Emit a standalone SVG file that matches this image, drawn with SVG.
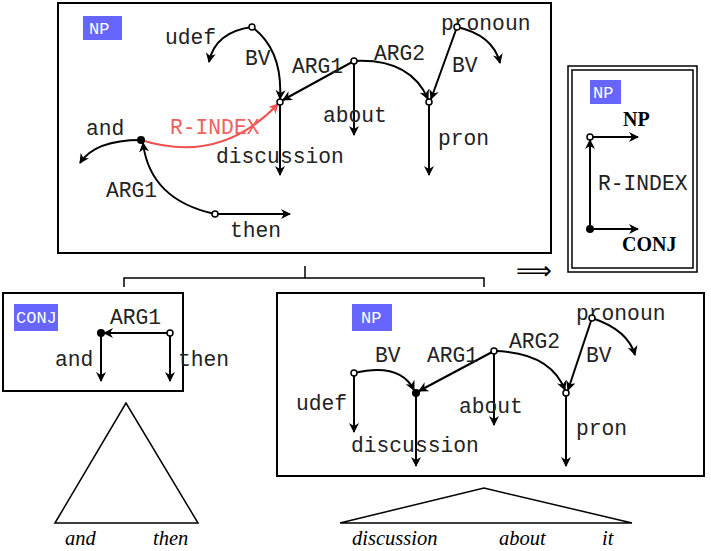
<svg xmlns="http://www.w3.org/2000/svg" width="711" height="551" viewBox="0 0 711 551">
<style>
.box{fill:none;stroke:#000;stroke-width:2}
.t{font-family:"Liberation Mono",monospace;font-size:21.3px;fill:#222}
.lab{fill:#6666ff}
.lt{font-family:"Liberation Mono",monospace;font-size:17px;fill:#fff}
.e{fill:none;stroke:#000;stroke-width:2;marker-end:url(#a)}
.l{fill:none;stroke:#000;stroke-width:1.5}
.o{fill:#fff;stroke:#000;stroke-width:1.5}
.f{fill:#000}
.it{font-family:"Liberation Serif",serif;font-style:italic;font-size:20.5px}
.b{font-family:"Liberation Serif",serif;font-weight:bold;font-size:20px}
</style>
<defs>
<marker id="a" markerWidth="10" markerHeight="10" refX="9" refY="5" orient="auto" markerUnits="userSpaceOnUse"><path d="M0,0 L10,5 L0,10 L3,5 Z" fill="#000"/></marker>
<marker id="r" markerWidth="10" markerHeight="10" refX="9" refY="5" orient="auto" markerUnits="userSpaceOnUse"><path d="M0,0 L10,5 L0,10 L3,5 Z" fill="#f05050"/></marker>
</defs>
<rect width="711" height="551" fill="#fff"/>
<g id="connectors">
<path class="e" d="M252,27 Q215,32 209,62"/>
<path class="e" d="M252,27 Q283,50 280,99"/>
<path class="e" d="M354,61 L283,100"/>
<path class="e" d="M354,61 L354,135"/>
<path class="e" d="M354,61 Q410,58 428,99"/>
<path class="e" d="M457,27 L431,99"/>
<path class="e" d="M457,27 Q493,35 500,63"/>
<path class="e" d="M280,104 L280,175"/>
<path class="e" d="M429,104 L429,175"/>
<path class="e" d="M141,140 Q95,140 80,163"/>
<path fill="none" stroke="#f05050" stroke-width="2" marker-end="url(#r)" d="M141,140 Q220,165 278,104"/>
<path class="e" d="M215,214 Q150,200 143,143"/>
<path class="e" d="M217,214 L290,214"/>
<path class="l" d="M124,287 V278 H484 V287 M305,278 V266"/>
<path class="e" d="M590,137 L638,137"/>
<path class="e" d="M590,229 L590,140"/>
<path class="e" d="M590,229 L638,229"/>
<path class="e" d="M168,333 L104,333"/>
<path class="e" d="M101,333 L101,381"/>
<path class="e" d="M170,335 L170,381"/>
<path class="l" d="M55,523 L126,403 L198,523 Z"/>
<path class="e" d="M354,375 L354,432"/>
<path class="e" d="M354,373 Q400,362 414,390"/>
<path class="e" d="M494,351 L419,391"/>
<path class="e" d="M494,351 L494,425"/>
<path class="e" d="M494,351 Q550,352 565,390"/>
<path class="e" d="M592,318 L568,390"/>
<path class="e" d="M592,318 Q628,330 635,355"/>
<path class="e" d="M416,393 L416,466"/>
<path class="e" d="M566,395 L566,466"/>
<path class="l" d="M340,523 L484,488 L632,523 Z"/>
</g>
<g id="top">
<rect class="box" x="58" y="3" width="493" height="250"/>
<rect class="lab" x="83" y="16" width="39" height="24"/><text class="lt" x="89" y="34">NP</text>
<text class="t" x="165" y="44">udef</text>
<text class="t" x="245" y="65">BV</text>
<text class="t" x="292" y="73">ARG1</text>
<text class="t" x="374" y="60">ARG2</text>
<text class="t" x="323" y="122">about</text>
<text class="t" x="441" y="30">pronoun</text>
<text class="t" x="452" y="72">BV</text>
<text class="t" x="438" y="145">pron</text>
<text class="t" x="216" y="163">discussion</text>
<text class="t" x="86" y="135">and</text>
<text class="t" x="170" y="134" style="fill:#f06060">R-INDEX</text>
<text class="t" x="106" y="197">ARG1</text>
<text class="t" x="230" y="237">then</text>
<circle class="o" cx="252" cy="27" r="3"/>
<circle class="o" cx="354" cy="61" r="3"/>
<circle class="o" cx="457" cy="27" r="3"/>
<circle class="o" cx="280" cy="102" r="3"/>
<circle class="o" cx="429" cy="102" r="3"/>
<circle class="f" cx="141" cy="140" r="4"/>
<circle class="o" cx="215" cy="214" r="3"/>
</g>
<g id="arrow"><text x="516" y="279" font-family="DejaVu Sans,sans-serif" font-size="25">⟹</text></g>
<g id="rule">
<rect x="568" y="66" width="129" height="206" fill="none" stroke="#000" stroke-width="1.5"/>
<rect x="572" y="70" width="121" height="198" fill="none" stroke="#000" stroke-width="1.5"/>
<rect class="lab" x="590" y="80" width="31" height="24"/><text class="lt" x="593" y="98">NP</text>
<text class="b" x="623" y="126">NP</text>
<text class="t" x="598" y="190">R-INDEX</text>
<text class="b" x="622" y="251">CONJ</text>
<circle class="o" cx="590" cy="137" r="3"/>
<circle class="f" cx="590" cy="229" r="4"/>
</g>
<g id="conj">
<rect class="box" x="3" y="293" width="180" height="98"/>
<rect class="lab" x="14" y="304" width="44" height="27"/><text class="lt" x="16" y="323">CONJ</text>
<text class="t" x="110" y="324">ARG1</text>
<text class="t" x="55" y="366">and</text>
<text class="t" x="178" y="366">then</text>
<circle class="f" cx="101" cy="333" r="4"/>
<circle class="o" cx="170" cy="333" r="3"/>
</g>
<g id="np2">
<rect class="box" x="277" y="293" width="427" height="183"/>
<rect class="lab" x="352" y="304" width="40" height="27"/><text class="lt" x="361" y="323">NP</text>
<text class="t" x="296" y="410">udef</text>
<text class="t" x="375" y="362">BV</text>
<text class="t" x="427" y="362">ARG1</text>
<text class="t" x="509" y="348">ARG2</text>
<text class="t" x="459" y="413">about</text>
<text class="t" x="576" y="320">pronoun</text>
<text class="t" x="586" y="362">BV</text>
<text class="t" x="351" y="452">discussion</text>
<text class="t" x="576" y="435">pron</text>
<circle class="o" cx="354" cy="373" r="3"/>
<circle class="f" cx="416" cy="393" r="4"/>
<circle class="o" cx="494" cy="351" r="3"/>
<circle class="o" cx="566" cy="393" r="3"/>
<circle class="o" cx="592" cy="318" r="3"/>
</g>
<g id="words">
<text class="it" x="65" y="545">and</text>
<text class="it" x="153" y="545">then</text>
<text class="it" x="352" y="545">discussion</text>
<text class="it" x="499" y="545">about</text>
<text class="it" x="602" y="545">it</text>
</g>
</svg>
